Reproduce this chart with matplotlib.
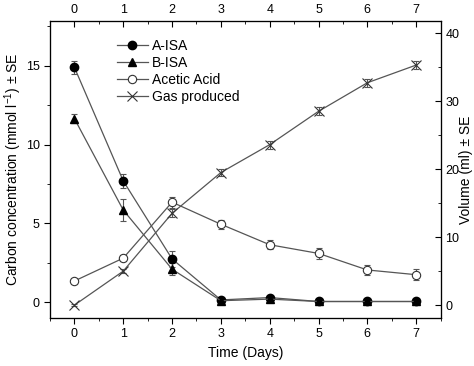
import numpy as np
import matplotlib
matplotlib.use('Agg')
import matplotlib.pyplot as plt
from matplotlib.ticker import MultipleLocator
from matplotlib.lines import Line2D

days = [0, 1, 2, 3, 4, 5, 6, 7]

a_isa = [14.9, 7.7, 2.75, 0.15, 0.3, 0.05, 0.05, 0.05]
a_isa_err = [0.4, 0.45, 0.5, 0.1, 0.1, 0.05, 0.05, 0.05]

b_isa = [11.65, 5.85, 2.1, 0.1, 0.2, 0.05, 0.05, 0.05]
b_isa_err = [0.3, 0.7, 0.4, 0.1, 0.1, 0.05, 0.05, 0.05]

acetic = [1.35, 2.8, 6.35, 4.95, 3.65, 3.1, 2.05, 1.75]
acetic_err = [0.1, 0.2, 0.35, 0.3, 0.3, 0.35, 0.3, 0.35]

gas = [0.0, 5.0, 13.5, 19.5, 23.6, 28.5, 32.7, 35.3]
gas_err = [0.2, 0.3, 0.6, 0.5, 0.6, 0.6, 0.6, 0.6]

labels = ['A-ISA', 'B-ISA', 'Acetic Acid', 'Gas produced']

plt.rcParams['font.family'] = ['Liberation Sans', 'DejaVu Sans']
plt.rcParams['font.size'] = 9
plt.rcParams['mathtext.fontset'] = 'custom'
plt.rcParams['mathtext.rm'] = 'Liberation Sans'
plt.rcParams['mathtext.default'] = 'regular'

fig = plt.figure(figsize=(4.74, 3.66), dpi=100)
ax = fig.add_axes([0.1055, 0.131, 0.824, 0.812])

line_c = '#555555'
kw = dict(color=line_c, lw=0.9, capsize=2.5, elinewidth=0.8, capthick=0.8, ecolor=line_c)

ax.errorbar(days, a_isa, yerr=a_isa_err, marker='o', ms=6, mfc='black', mec='black', **kw)
ax.errorbar(days, b_isa, yerr=b_isa_err, marker='^', ms=6, mfc='black', mec='black', **kw)
ax.errorbar(days, acetic, yerr=acetic_err, marker='o', ms=6, mfc='white', mec='#333333', mew=0.8, **kw)

ax.set_xlim(-0.5, 7.5)
ax.set_ylim(-1.0, 17.85)
ax.xaxis.set_major_locator(MultipleLocator(1))
ax.xaxis.set_minor_locator(MultipleLocator(0.5))
ax.yaxis.set_major_locator(MultipleLocator(5))
ax.yaxis.set_minor_locator(MultipleLocator(2.5))
ax.tick_params(which='both', direction='out', top=False, right=False)
ax.tick_params(which='major', length=4)
ax.tick_params(which='minor', length=2.5)
ax.set_xlabel('Time (Days)', fontsize=10)
ax.set_ylabel('Carbon concentration (mmol l$^{-1}$) ± SE', fontsize=10, labelpad=1)

ax2 = ax.twinx()
ax2.errorbar(days, gas, yerr=gas_err, marker='x', ms=7, mfc='none', mec='#333333', mew=0.8, **kw)
ax2.set_ylim(-1.9, 41.8)
ax2.yaxis.set_major_locator(MultipleLocator(10))
ax2.yaxis.set_minor_locator(MultipleLocator(5))
ax2.tick_params(which='both', direction='in')
ax2.tick_params(which='major', length=4)
ax2.tick_params(which='minor', length=2.5)
ax2.set_ylabel('Volume (ml) ± SE', fontsize=10, labelpad=0)

ax3 = ax.twiny()
ax3.set_xlim(ax.get_xlim())
ax3.xaxis.set_major_locator(MultipleLocator(1))
ax3.xaxis.set_minor_locator(MultipleLocator(0.5))
ax3.tick_params(which='both', direction='in')
ax3.tick_params(which='major', length=4)
ax3.tick_params(which='minor', length=2.5)

handles = [
    Line2D([], [], color=line_c, lw=0.9, marker='o', ms=6, mfc='black', mec='black'),
    Line2D([], [], color=line_c, lw=0.9, marker='^', ms=6, mfc='black', mec='black'),
    Line2D([], [], color=line_c, lw=0.9, marker='o', ms=6, mfc='white', mec='#333333', mew=0.8),
    Line2D([], [], color=line_c, lw=0.9, marker='x', ms=7, mec='#333333', mew=0.8),
]
ax3.legend(handles, labels, loc='upper left', bbox_to_anchor=(0.14, 0.98), frameon=False,
           fontsize=10, handlelength=2.2, labelspacing=0.2, handletextpad=0.3)

fig.savefig('out.png', dpi=100)
